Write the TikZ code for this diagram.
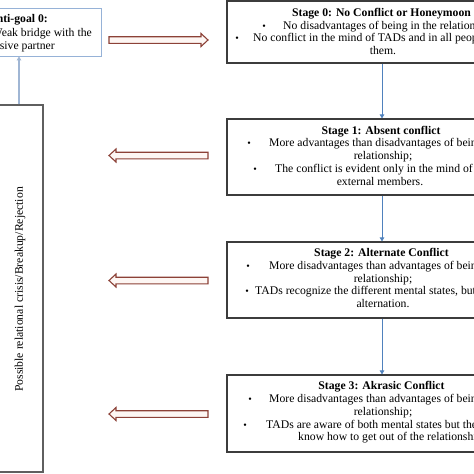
\documentclass[tikz,border=0pt]{standalone}
\usepackage{fontspec}
\setmainfont{Liberation Serif}
\usetikzlibrary{arrows.meta}
\definecolor{boxgray}{RGB}{60,60,60}
\definecolor{sidegray}{RGB}{95,95,95}
\definecolor{agblue}{RGB}{150,178,215}
\definecolor{upblue}{RGB}{160,182,212}
\definecolor{flowblue}{RGB}{79,129,189}
\definecolor{brownred}{RGB}{140,65,55}
\definecolor{arrowfill}{RGB}{253,246,243}
\tikzset{
  stagebox/.style={draw=boxgray, line width=1.2pt, fill=white, inner sep=0pt, minimum width=310pt},
  sidebox/.style={draw=sidegray, line width=1.2pt, inner sep=0pt},
  agbox/.style={draw=agblue, line width=0.9pt, inner sep=0pt},
  txt/.style={inner sep=0pt, font=\fontsize{11.7}{13}\selectfont},
  ttl/.style={txt, anchor=base, font=\fontsize{11.7}{13}\selectfont\bfseries},
  ln/.style={txt, anchor=base west},
  cl/.style={txt, anchor=base},
  bul/.style={inner sep=0pt, anchor=base, font=\fontsize{10}{10}\selectfont},
  flow/.style={draw=flowblue, line width=0.8pt, -{Triangle[width=4.5pt,length=4pt]}},
  upflow/.style={draw=upblue, line width=1.1pt, -{Triangle[width=4.5pt,length=4pt]}},
  blockarrow/.style={draw=brownred, fill=arrowfill, line width=1.1pt, line join=miter},
}
% hollow block arrow: #1 tail x, #2 tip x, #3 y
\newcommand\hollowarrow[3]{%
  \path[blockarrow] (#1,#3-3.3) -- ({#2+(#1-#2)/abs(#1-#2)*7},#3-3.3) -- ({#2+(#1-#2)/abs(#1-#2)*7},#3-6.5)
    -- (#2,#3) -- ({#2+(#1-#2)/abs(#1-#2)*7},#3+6.5) -- ({#2+(#1-#2)/abs(#1-#2)*7},#3+3.3) -- (#1,#3+3.3) -- cycle;}
\begin{document}
\begin{tikzpicture}[x=1pt,y=-1pt]
\useasboundingbox (0,0) rectangle (474,474);
\clip (0,0) rectangle (474,474);
\fill[white] (0,0) rectangle (474,474);

% boxes
\node[agbox, minimum width=161pt, minimum height=48pt] (ag) at (20.5,32) {};
\node[sidebox, minimum width=103pt, minimum height=367pt] (vb) at (-8.5,288.5) {};
\node[stagebox, minimum height=62pt] (s0) at (382,32) {};
\node[stagebox, minimum height=76pt] (s1) at (382,157) {};
\node[stagebox, minimum height=76pt] (s2) at (382,280) {};
\node[stagebox, minimum height=77pt] (s3) at (382,413.5) {};

% anti-goal text
\node[txt, anchor=base east, font=\fontsize{11.7}{13}\selectfont\bfseries] (ag1) at (48,22) {Anti-goal 0:};
\node[txt, anchor=base east] (ag2) at (92,36) {Weak bridge with the};
\node[txt, anchor=base east] (ag3) at (55,49) {passive partner};

% side text
\node[txt, rotate=90] (vbt) at (20,289.5) {Possible relational crisis/Breakup/Rejection};

% stage 0
\node[ttl] (t0) at (381.5,16.5) {Stage 0: No Conflict or Honeymoon};
\node[bul] (b0a) at (264,29.5) {•};
\node[ln] (l0a) at (283,29.5) {No disadvantages of being in the relationship;};
\node[bul] (b0b) at (237,41.5) {•};
\node[ln] (l0b) at (253,41.5) {No conflict in the mind of TADs and in all people around};
\node[cl] (l0c) at (383,54) {them.};

% stage 1
\node[ttl] (t1) at (381,134) {Stage 1: Absent conflict};
\node[bul] (b1a) at (249,146.5) {•};
\node[ln] (l1a) at (269,146.5) {More advantages than disadvantages of being in the};
\node[cl] (l1b) at (383,159) {relationship;};
\node[bul] (b1b) at (255,172) {•};
\node[ln] (l1c) at (275,172) {The conflict is evident only in the mind of the};
\node[cl] (l1d) at (380,185) {external members.};

% stage 2
\node[ttl] (t2) at (381.5,256) {Stage 2: Alternate Conflict};
\node[bul] (b2a) at (248,269) {•};
\node[ln] (l2a) at (269,269) {More disadvantages than advantages of being in the};
\node[cl] (l2b) at (383,282) {relationship;};
\node[bul] (b2b) at (247,294.5) {•};
\node[ln] (l2c) at (255,294.5) {TADs recognize the different mental states, but in};
\node[cl] (l2d) at (383,307) {alternation.};

% stage 3
\node[ttl] (t3) at (381.5,389.5) {Stage 3: Akrasic Conflict};
\node[bul] (b3a) at (250,402) {•};
\node[ln] (l3a) at (269,402) {More disadvantages than advantages of being in the};
\node[cl] (l3b) at (383,415) {relationship;};
\node[bul] (b3b) at (245,428) {•};
\node[ln] (l3c) at (266,428) {TADs are aware of both mental states but they don't};
\node[ln] (l3d) at (298,440.5) {know how to get out of the relationship.};

% block arrows
\hollowarrow{109}{208}{40}
\hollowarrow{208}{109}{155.5}
\hollowarrow{208}{109}{280.5}
\hollowarrow{208}{109}{414}

% flow arrows
\draw[flow] (s0.south) -- (s1.north);
\draw[flow] (s1.south) -- (s2.north);
\draw[flow] (s2.south) -- (s3.north);
\draw[upflow] ([xshift=27.5pt]vb.north) -- ([xshift=27.5pt]vb.north |- ag.south);
\end{tikzpicture}
\end{document}
